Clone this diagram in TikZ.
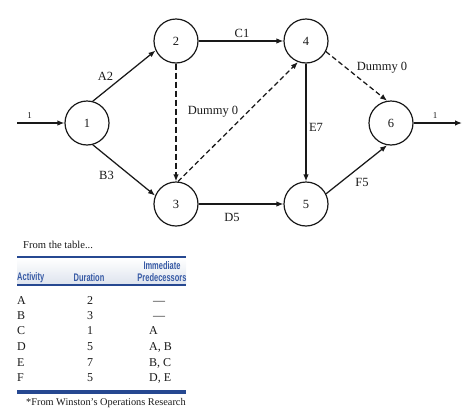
\documentclass[tikz,border=0pt]{standalone}
\usepackage{fontspec}
\setmainfont{Liberation Serif}
\newfontfamily\hdrfont[FakeStretch=0.68]{Liberation Sans}
\usetikzlibrary{arrows.meta}
\definecolor{tblue}{RGB}{38,72,145}
\definecolor{hblue}{RGB}{55,90,165}
\definecolor{hfill}{RGB}{222,228,238}
\definecolor{ink}{RGB}{25,25,25}
\begin{document}
\begin{tikzpicture}[x=1pt,y=-1pt,
  ev/.style={circle,draw=ink,line width=1.2pt,minimum size=44pt,inner sep=0pt,text=ink,font=\fontsize{12.5}{14}\selectfont},
  act/.style={draw=ink,line width=1.25pt,-{Latex[length=7pt,width=5.5pt]}},
  dum/.style={act,dash pattern=on 5pt off 3pt},
  lbl/.style={inner sep=0pt,text=ink,font=\fontsize{12.5}{14}\selectfont},
  iolbl/.style={inner sep=0pt,text=ink,font=\fontsize{9}{10}\selectfont},
  hdr/.style={inner sep=0pt,text=hblue,font=\hdrfont\bfseries\fontsize{11}{12}\selectfont},
  cell/.style={inner sep=0pt,text=ink,font=\fontsize{12}{14}\selectfont},
  small/.style={inner sep=0pt,text=ink}]
\useasboundingbox (0,0) rectangle (474,418);
% events
\node[ev] (n1) at (87,123) {1};
\node[ev] (n2) at (176,41) {2};
\node[ev] (n3) at (176,204) {3};
\node[ev] (n4) at (306,41) {4};
\node[ev] (n5) at (306,204) {5};
\node[ev] (n6) at (391,123) {6};
\coordinate (in) at (17,123);
\coordinate (out) at (462,123);
% activities
\draw[act] (in) -- (n1);
\draw[act] (n1.75) -- (n2.205);
\draw[act] (n1.285) -- (n3.158);
\draw[act] (n2) -- (n4);
\draw[act] (n3) -- (n5);
\draw[dum,line width=1.6pt,dash pattern=on 6pt off 3pt] (n2) -- (n3);
\draw[dum] (n3.85) -- (n4.249);
\draw[act] (n4) -- (n5);
\draw[dum] (n4.332) -- (n6.100);
\draw[act] (n5.27) -- (n6.260);
\draw[act] (n6) -- (out);
% labels
\node[iolbl] (lin) at (29.5,116) {1};
\node[iolbl] (lout) at (435,116) {1};
\node[lbl] (la) at (105.5,76) {A2};
\node[lbl] (lb) at (106.5,175) {B3};
\node[lbl] (lc) at (242,33) {C1};
\node[lbl] (ld) at (232,217.5) {D5};
\node[lbl] (ldm) at (213,112) {Dummy 0};
\node[lbl] (ldr) at (382,68) {Dummy 0};
\node[lbl] (le) at (316,127) {E7};
\node[lbl] (lf) at (362,182) {F5};
% table
\node[small,anchor=west,font=\fontsize{10.6}{12}\selectfont] (from) at (23,244.5) {From the table...};
\fill[top color=white,bottom color=hfill] (17,258) rectangle (186,284);
\draw[tblue,line width=2pt] (17,257) -- (186,257);
\draw[tblue,line width=1.8pt] (17,285) -- (186,285);
\draw[tblue,line width=3.5pt] (17,392) -- (186,392);
\node[hdr,anchor=west] (hact) at (17,278) {Activity};
\node[hdr] (hdur) at (89,278) {Duration};
\node[hdr] (himm) at (162,266) {Immediate};
\node[hdr] (hpre) at (162,278) {Predecessors};
% rows
\node[cell,anchor=base west] (ra) at (17,304) {A};
\node[cell,anchor=base] (da) at (90,304) {2};
\node[cell,anchor=base] (pa) at (159,304) {---};
\node[cell,anchor=base west] (rb) at (17,319.5) {B};
\node[cell,anchor=base] (db) at (90,319.5) {3};
\node[cell,anchor=base] (pb) at (159,319.5) {---};
\node[cell,anchor=base west] (rc) at (17,334.5) {C};
\node[cell,anchor=base] (dc) at (90,334.5) {1};
\node[cell,anchor=base west] (pc) at (149,334.5) {A};
\node[cell,anchor=base west] (rd) at (17,350.5) {D};
\node[cell,anchor=base] (dd) at (90,350.5) {5};
\node[cell,anchor=base west] (pd) at (149,350.5) {A, B};
\node[cell,anchor=base west] (re) at (17,366) {E};
\node[cell,anchor=base] (de) at (90,366) {7};
\node[cell,anchor=base west] (pe) at (149,366) {B, C};
\node[cell,anchor=base west] (rf) at (17,381.5) {F};
\node[cell,anchor=base] (df) at (90,381.5) {5};
\node[cell,anchor=base west] (pf) at (149,381.5) {D, E};
\node[small,anchor=west,font=\fontsize{10.3}{12}\selectfont] (note) at (26,403) {*From Winston's Operations Research};
\end{tikzpicture}
\end{document}
